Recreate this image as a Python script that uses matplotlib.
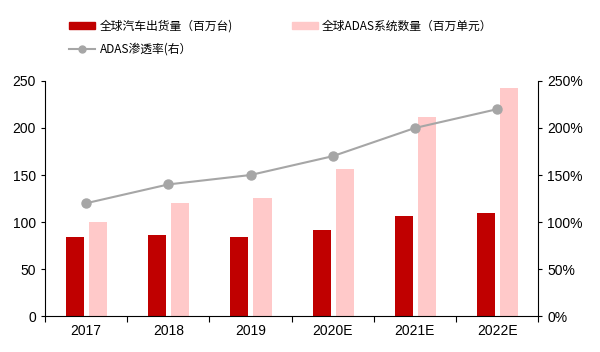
import matplotlib
matplotlib.use("Agg")
import matplotlib.pyplot as plt
import numpy as np
from matplotlib.patches import Patch
from matplotlib.lines import Line2D
from matplotlib.ticker import FuncFormatter

years = ["2017", "2018", "2019", "2020E", "2021E", "2022E"]
car_shipments = [84, 86, 84, 92, 106, 110]
adas_units = [100, 120, 126, 156, 212, 242]
adas_rate = [1.20, 1.40, 1.50, 1.70, 2.00, 2.20]

RED = "#C00000"
PINK = "#FFC9C9"
GRAY = "#A6A6A6"
CJK = ["Noto Sans CJK SC", "DejaVu Sans"]
TICK_FONT = "Liberation Sans"

fig = plt.figure(figsize=(6.0, 3.52), dpi=100, facecolor="white")
ax = fig.add_axes([0.075, 0.102, 0.822, 0.668])
ax2 = ax.twinx()

x = np.arange(len(years))
w = 0.22
ax.bar(x - 0.135, car_shipments, width=w, color=RED, zorder=2)
ax.bar(x + 0.146, adas_units, width=w, color=PINK, zorder=2)
ax2.plot(x, adas_rate, color=GRAY, lw=1.5, marker="o", markersize=6.5, zorder=3)

ax.set_xlim(-0.5, len(years) - 0.5)
ax.set_ylim(0, 250)
ax.set_yticks(range(0, 251, 50))
ax2.set_ylim(0, 2.5)
ax2.set_yticks(np.arange(0, 2.51, 0.5))
ax2.yaxis.set_major_formatter(FuncFormatter(lambda v, _: f"{v * 100:.0f}%"))

ax.set_xticks(x)
ax.set_xticklabels(years)
ax.set_xticks(np.arange(-0.5, len(years)), minor=True)
ax.tick_params(axis="x", which="major", length=0, pad=6)
ax.tick_params(axis="x", which="minor", length=4, direction="out", width=0.8)
ax.tick_params(axis="y", length=3, width=0.8)
ax2.tick_params(axis="y", length=3, width=0.8)

for a in (ax, ax2):
    a.spines["top"].set_visible(False)
    for lab in a.get_xticklabels() + a.get_yticklabels():
        lab.set_fontfamily(TICK_FONT)
        lab.set_fontsize(10)
ax.spines["right"].set_visible(False)
ax2.spines["left"].set_visible(False)
ax2.spines["bottom"].set_visible(False)

handles = [
    Patch(color=RED, label="全球汽车出货量（百万台)"),
    Line2D([], [], color=GRAY, lw=1.5, marker="o", markersize=5, label="ADAS渗透率(右）"),
    Patch(color=PINK, label="全球ADAS系统数量（百万单元）"),
]
fig.legend(
    handles=handles,
    ncol=2,
    loc="upper left",
    bbox_to_anchor=(0.098, 0.975),
    frameon=False,
    handlelength=2.2,
    handleheight=0.6,
    handletextpad=0.35,
    columnspacing=5.0,
    labelspacing=0.85,
    prop={"family": CJK, "size": 8.5},
)

fig.savefig("out.png", dpi=100, facecolor="white")
